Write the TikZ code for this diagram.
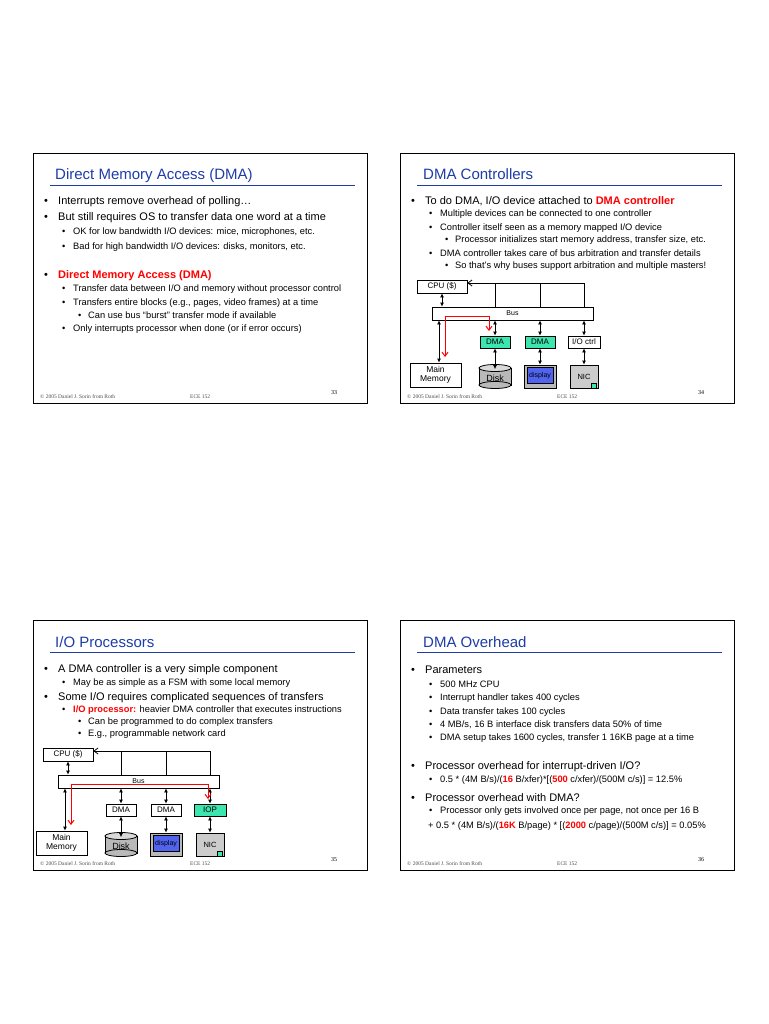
\documentclass[tikz,border=0pt]{standalone}
\usepackage{fontspec}
\setmainfont{Liberation Sans}
\newfontfamily\serf{Liberation Serif}
\usetikzlibrary{arrows.meta}
\definecolor{tblue}{RGB}{30,60,170}
\definecolor{myred}{RGB}{255,0,0}
\definecolor{teal2}{RGB}{60,230,175}
\definecolor{dblue}{RGB}{80,100,240}
\newcounter{nn}
\tikzset{
 txt/.style={anchor=base west,inner sep=0pt},
 box/.style={draw,inner sep=0pt,font=\fontsize{8}{9}\selectfont,align=center},
 dbl/.style={{Latex[length=4pt,width=4pt]}-{Latex[length=4pt,width=4pt]}},
 sgl/.style={-{Straight Barb[length=4pt,width=6pt]}},
 redarr/.style={myred,line width=1pt,-{Straight Barb[length=4pt,width=6pt]}}
}
\newcommand\tl[4]{\stepcounter{nn}\node[txt,font=\fontsize{#3}{#3}\selectfont] (n\thenn) at (#1,#2) {#4};}
\newcommand\LA[2]{\tl{11}{#1}{11}{\textbullet}\tl{25}{#1}{11}{#2}}
\newcommand\LB[2]{\tl{29}{#1}{9.3}{\textbullet}\tl{40}{#1}{9.3}{#2}}
\newcommand\LC[2]{\tl{45}{#1}{9.3}{\textbullet}\tl{55}{#1}{9.3}{#2}}
\newcommand\slidebox[3]{%
 \draw[line width=0.8pt] (0,0) rectangle (334,250);
 \stepcounter{nn}\node[txt,font=\fontsize{15}{15}\selectfont,text=tblue] (n\thenn) at (#1,27) {#2};
 \draw[tblue,line width=0.8pt] (17,32) -- (322,32);
 \stepcounter{nn}\node[txt,font=\serf\fontsize{5.5}{6}\selectfont,text=black!70] (n\thenn) at (7,245) {\textcopyright{} 2005 Daniel J. Sorin from Roth};
 \stepcounter{nn}\node[txt,font=\serf\fontsize{5.5}{6}\selectfont,text=black!70] (n\thenn) at (157,245) {ECE 152};
 \stepcounter{nn}\node[txt,font=\serf\fontsize{6}{6}\selectfont] (n\thenn) at (298,241) {#3};}
\newcommand\rb[1]{\textcolor{myred}{\textbf{#1}}}
% diagram: prefix, dma fill, third label, third fill, red x
\newcommand\diag[5]{%
 \begin{scope}[line width=0.8pt]
 \node[box,minimum width=50,minimum height=13] (#1cpu) at (442,286.5) {CPU (\$)};
 \node[box,minimum width=161,minimum height=13,font=\fontsize{7}{7}\selectfont] (#1bus) at (512.5,313.5) {Bus};
 \node[box,fill=#2,minimum width=30,minimum height=12] (#1d1) at (495,342) {DMA};
 \node[box,fill=#2,minimum width=30,minimum height=12] (#1d2) at (540,342) {DMA};
 \node[box,fill=#4,minimum width=32,minimum height=12] (#1d3) at (584,342) {#3};
 \node[box,minimum width=51,minimum height=24,font=\fontsize{8.5}{9.5}\selectfont] (#1mm) at (435.5,375) {Main\\Memory};
 \fill[gray!55,draw=black] (479,368) rectangle (511,385);
 \fill[gray!55,draw=black] (495,385) ellipse [x radius=16,y radius=3.5];
 \fill[gray!30,draw=black] (495,368) ellipse [x radius=16,y radius=3.5];
 \node[inner sep=0pt,minimum width=32,minimum height=17,font=\fontsize{9}{9}\selectfont] (#1disk) at (495,378) {Disk};
 \node[box,fill=gray!55,minimum width=32,minimum height=23] (#1disp) at (540,376.5) {};
 \node[box,fill=dblue,minimum width=26,minimum height=16,font=\fontsize{7}{8}\selectfont] (#1dispin) at (540,375.5) {display};
 \node[box,fill=gray!40,minimum width=28,minimum height=23,font=\fontsize{7.5}{8}\selectfont] (#1nic) at (584,376.5) {NIC};
 \fill[teal2,draw=black] (591,383) rectangle (596,388);
 \draw[dbl] (#1cpu.south) -- (#1cpu.south |- #1bus.north);
 \draw[dbl] (#1mm.north -| 439,0) -- (#1bus.south -| 439,0);
 \foreach \x/\a/\b in {495/d1/disk,540/d2/disp,584/d3/nic}{
   \draw[dbl] (#1bus.south -| \x,0) -- (#1\a.north);
   \draw[dbl] (#1\a.south) -- (#1\b.north -| \x,0);}
 \draw (#1bus.north -| 495,0) -- (495,283);
 \draw (#1bus.north -| 540,0) -- (540,283);
 \draw[sgl] (#1bus.north -| 584,0) |- (#1cpu.east |- 0,283);
 \draw[redarr] (445,316) -| (#5,331);
 \draw[redarr] (445,316) -- (445,357);
 \end{scope}}
\begin{document}
\begin{tikzpicture}[x=1pt,y=-1pt]
\useasboundingbox (0,0) rectangle (768,1024);
\fill[white] (0,0) rectangle (768,1024);
% slide 1
\begin{scope}[shift={(33,153)}]
\slidebox{22}{Direct Memory Access (DMA)}{33}
\LA{52}{Interrupts remove overhead of polling\dots}
\LA{68}{But still requires OS to transfer data one word at a time}
\LB{82}{OK for low bandwidth I/O devices: mice, microphones, etc.}
\LB{96}{Bad for high bandwidth I/O devices: disks, monitors, etc.}
\LA{125}{\rb{Direct Memory Access (DMA)}}
\LB{138}{Transfer data between I/O and memory without processor control}
\LB{152}{Transfers entire blocks (e.g., pages, video frames) at a time}
\LC{165}{Can use bus ``burst'' transfer mode if available}
\LB{178}{Only interrupts processor when done (or if error occurs)}
\end{scope}
% slide 2
\begin{scope}[shift={(400,153)}]
\slidebox{23}{DMA Controllers}{34}
\LA{52}{To do DMA, I/O device attached to \rb{DMA controller}}
\LB{64}{Multiple devices can be connected to one controller}
\LB{77}{Controller itself seen as a memory mapped I/O device}
\LC{90}{Processor initializes start memory address, transfer size, etc.}
\LB{103}{DMA controller takes care of bus arbitration and transfer details}
\LC{115}{So that's why buses support arbitration and multiple masters!}
\end{scope}
\diag{a}{teal2}{I/O ctrl}{white}{489}
% slide 3
\begin{scope}[shift={(33,620)}]
\slidebox{22}{I/O Processors}{35}
\LA{52}{A DMA controller is a very simple component}
\LB{65}{May be as simple as a FSM with some local memory}
\LA{80}{Some I/O requires complicated sequences of transfers}
\LB{92}{\rb{I/O processor:} heavier DMA controller that executes instructions}
\LC{104}{Can be programmed to do complex transfers}
\LC{116}{E.g., programmable network card}
\end{scope}
\begin{scope}[shift={(-374,468)}]
\diag{b}{white}{IOP}{teal2}{582}
\end{scope}
% slide 4
\begin{scope}[shift={(400,620)}]
\slidebox{23}{DMA Overhead}{36}
\LA{53}{Parameters}
\LB{67}{500 MHz CPU}
\LB{80}{Interrupt handler takes 400 cycles}
\LB{94}{Data transfer takes 100 cycles}
\LB{107}{4 MB/s, 16 B interface disk transfers data 50\% of time}
\LB{120}{DMA setup takes 1600 cycles, transfer 1 16KB page at a time}
\LA{149}{Processor overhead for interrupt-driven I/O?}
\LB{162}{0.5 * (4M B/s)/(\rb{16} B/xfer)*[(\rb{500} c/xfer)/(500M c/s)] = 12.5\%}
\LA{181}{Processor overhead with DMA?}
\LB{193}{Processor only gets involved once per page, not once per 16 B}
\tl{28}{208}{9.3}{+ 0.5 * (4M B/s)/(\rb{16K} B/page) * [(\rb{2000} c/page)/(500M c/s)] = 0.05\%}
\end{scope}
\end{tikzpicture}
\end{document}
